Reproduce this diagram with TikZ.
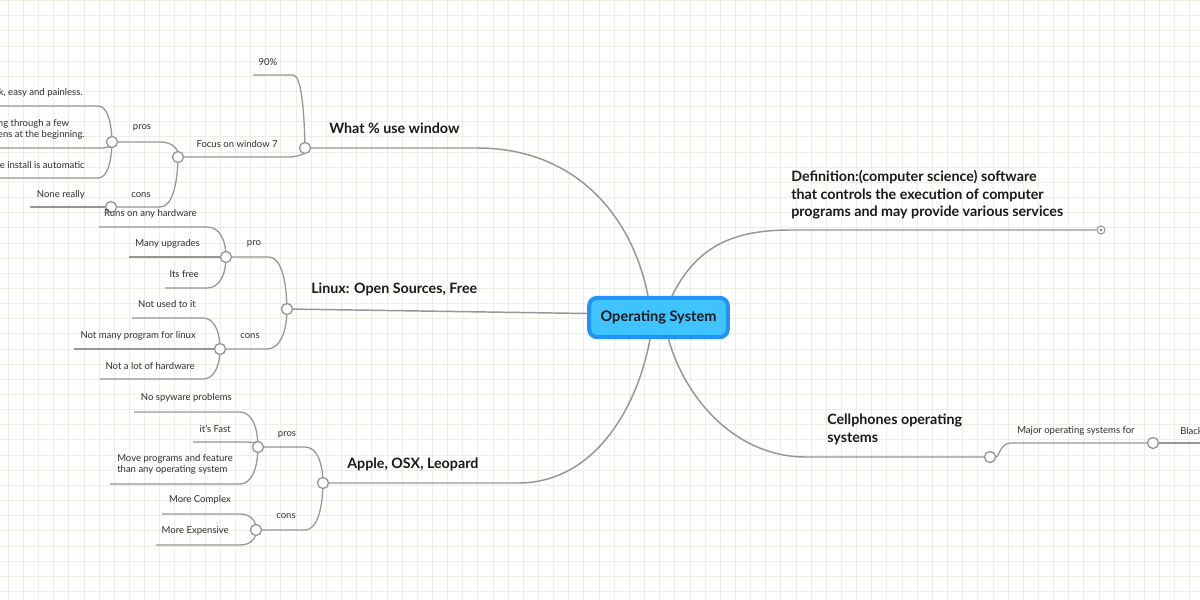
\documentclass[tikz,border=0pt]{standalone}
\usepackage{fontspec}
\setmainfont{Lato}
\usetikzlibrary{calc}
\definecolor{gridc}{RGB}{234,240,226}
\definecolor{lnc}{RGB}{150,150,150}
\definecolor{boxfill}{RGB}{64,196,255}
\definecolor{boxdraw}{RGB}{33,146,250}
\definecolor{leaftxt}{RGB}{45,45,45}
\pgfdeclarelayer{bg}
\pgfdeclarelayer{grid}
\pgfsetlayers{grid,bg,main}
\begin{document}
\begin{tikzpicture}[x=0.75pt,y=-0.75pt,
  ln/.style={draw=lnc,line width=0.95pt},
  br/.style={to path={-- ($(\tikztotarget |- \tikztostart)+(-#1,0)$)
     .. controls ($(\tikztotarget |- \tikztostart)+(-#1/3,0)$)
        and ($(\tikztotarget)!0.55!(\tikztotarget |- \tikztostart)+(-1,0)$) .. (\tikztotarget)}},
  br/.default=18,
  jn/.style={circle,draw=lnc,fill=white,line width=1pt,minimum size=8.3pt,inner sep=0},
  leaf/.style={font=\fontsize{7.15}{8.4}\selectfont,inner sep=0,text=leaftxt},
  topic/.style={font=\bfseries\fontsize{10.7}{13}\selectfont,inner sep=0,align=left,text=black!90},
]
\useasboundingbox (0,0) rectangle (1200,600);
\begin{pgfonlayer}{grid}
  \fill[white] (0,0) rectangle (1200,600);
  \foreach \i in {0,...,79} { \draw[gridc,line width=0.75pt] (8.25+15.15*\i,0) -- (8.25+15.15*\i,600); }
  \foreach \j in {0,...,39} { \draw[gridc,line width=0.75pt] (0,0.6+15.15*\j) -- (1200,0.6+15.15*\j); }
\end{pgfonlayer}

% central topic
\node[draw=boxdraw,fill=boxfill,line width=3pt,rounded corners=6pt,
      minimum width=104pt,minimum height=29.5pt,inner sep=0,
      font=\bfseries\fontsize{10.9}{12}\selectfont,text=black!90] (os) at (658.5,317.5) {Operating System};

% junction circles
\node[jn] (W) at (305,148) {};
\node[jn] (F) at (178,157) {};
\node[jn] (P1) at (112,142) {};
\node[jn] (C1) at (111,207) {};
\node[jn] (L) at (287,309) {};
\node[jn] (LP) at (226,257) {};
\node[jn] (LC) at (220,349) {};
\node[jn] (A) at (323,483) {};
\node[jn] (AP) at (258,447) {};
\node[jn] (AC) at (256,530) {};
\node[jn] (C) at (990,457) {};
\node[jn] (M) at (1153,443) {};
\node[circle,draw=lnc,fill=white,line width=0.8pt,minimum size=6pt,inner sep=0] (D) at (1101,230) {};
\fill[lnc] (D.center) circle (1.6);

% free ends of leaf lines
\coordinate (w90) at (253,75);
\coordinate (q1) at (-5,106);
\coordinate (q2) at (-5,148);
\coordinate (q3) at (-5,178);
\coordinate (nr) at (30,207);
\coordinate (r1) at (99,227);
\coordinate (r2) at (129,257);
\coordinate (r3) at (165,288);
\coordinate (r4) at (132,318);
\coordinate (r5) at (74,349);
\coordinate (r6) at (100,379);
\coordinate (s1) at (134,412);
\coordinate (s2) at (193,442);
\coordinate (s3) at (110,484);
\coordinate (s4) at (162,514);
\coordinate (s5) at (156,545);
\coordinate (blk) at (1205,443);

\begin{pgfonlayer}{bg}
  % main branches
  \draw[ln,line width=1.1pt] (W) -- (477,148) .. controls (575,148) and (632,215) .. ($(os.north)+(-10.5,0)$);
  \draw[ln,line width=1.1pt] (L) -- ($(os.west)+(0,-4)$);
  \draw[ln,line width=1.1pt] (A) -- (518,483) .. controls (596,483) and (638,405) .. ($(os.south)+(-8.5,0)$);
  \draw[ln,line width=1.1pt] ($(os.north)+(13.5,0)$) .. controls (695,250) and (728,230) .. (790,230) -- (D);
  \draw[ln,line width=1.1pt] ($(os.south)+(10,0)$) .. controls (685,398) and (735,457) .. (806,457) -- (C);
  \draw[ln] (C) .. controls (999,457) and (1000,443) .. (1011,443) -- (M);
  \draw[ln] (M) -- (blk);
  % windows subtree
  \draw[ln] (w90) to[br=12] (W);
  \draw[ln] (F) to[br=17] (W);
  \draw[ln] (P1) to[br=18] (F);
  \draw[ln] (C1) to[br=18] (F);
  \draw[ln] (q1) to[br=14] (P1);
  \draw[ln] (q2) to[br=12] (P1);
  \draw[ln] (q3) to[br=14] (P1);
  \draw[ln] (nr) -- (C1);
  % linux subtree
  \draw[ln] (LP) to[br=18] (L);
  \draw[ln] (LC) to[br=20] (L);
  \draw[ln] (r1) to[br=19] (LP);
  \draw[ln] (r2) -- (LP);
  \draw[ln] (r3) to[br=19] (LP);
  \draw[ln] (r4) to[br=17] (LC);
  \draw[ln] (r5) -- (LC);
  \draw[ln] (r6) to[br=17] (LC);
  % apple subtree
  \draw[ln] (AP) to[br=18] (A);
  \draw[ln] (AC) to[br=18] (A);
  \draw[ln] (s1) to[br=18] (AP);
  \draw[ln] (s2) to[br=14] (AP);
  \draw[ln] (s3) to[br=18] (AP);
  \draw[ln] (s4) to[br=16] (AC);
  \draw[ln] (s5) to[br=16] (AC);
\end{pgfonlayer}

% topic labels
\node[topic,anchor=west] (tw) at (329,128) {What \% use window};
\node[topic,anchor=west] (tl) at (311,289) {Linux: Open Sources, Free};
\node[topic,anchor=west] (ta) at (347,464) {Apple, OSX, Leopard};
\node[topic,anchor=west] (td) at (791,195) {Definition:(computer science) software\\that controls the execution of computer\\programs and may provide various services};
\node[topic,anchor=west] (tc) at (827,429.5) {Cellphones operating\\systems};

% leaf labels
\node[leaf] (t90) at (268,62) {90\%};
\node[leaf,anchor=east] (tf) at (278,144) {Focus on window 7};
\node[leaf] (tp1) at (142,128) {pros};
\node[leaf] (tc1) at (141,195) {cons};
\node[leaf,anchor=east] (tq1) at (83,93) {k, easy and painless.};
\node[leaf,anchor=east,align=left] (tq2) at (85,129) {ng through a few\\ens at the beginning.};
\node[leaf,anchor=east] (tq3) at (85,165) {e install is automatic};
\node[leaf,anchor=east] (tnr) at (85,195) {None really};

\node[leaf] (tlp) at (254,244) {pro};
\node[leaf] (tlc) at (250,336) {cons};
\node[leaf,anchor=east] (tr1) at (197,214) {Runs on any hardware};
\node[leaf,anchor=east] (tr2) at (200,244) {Many upgrades};
\node[leaf,anchor=east] (tr3) at (199,274) {Its free};
\node[leaf,anchor=east] (tr4) at (196,304) {Not used to it};
\node[leaf,anchor=east] (tr5) at (196,336) {Not many program for linux};
\node[leaf,anchor=east] (tr6) at (195,366) {Not a lot of hardware};

\node[leaf] (tap) at (287,435) {pros};
\node[leaf] (tac) at (286,516) {cons};
\node[leaf,anchor=east] (ts1) at (232,398) {No spyware problems};
\node[leaf,anchor=east] (ts2) at (231,429) {it's Fast};
\node[leaf,anchor=west,align=left] (ts3) at (117,464.5) {Move programs and feature\\than any operating system};
\node[leaf,anchor=east] (ts4) at (231,500) {More Complex};
\node[leaf,anchor=east] (ts5) at (229,531) {More Expensive};

\node[leaf,anchor=west] (tm) at (1017,431) {Major operating systems for};
\node[leaf,anchor=west] (tb) at (1180,431) {Black};
\end{tikzpicture}
\end{document}
